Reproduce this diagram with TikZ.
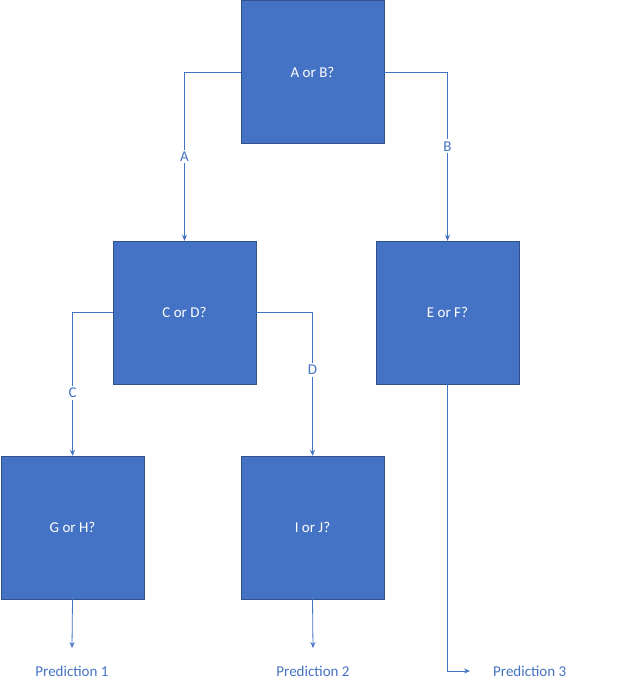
\documentclass[tikz,border=0pt]{standalone}
\usepackage{fontspec}
\setmainfont{Carlito}
\usetikzlibrary{arrows.meta}
\definecolor{boxblue}{HTML}{4472C4}
\definecolor{boxedge}{HTML}{2F528F}
\tikzset{
  qbox/.style={draw=boxedge, fill=boxblue, minimum width=143pt, minimum height=143pt, inner sep=0pt, text=white, font=\fontsize{15}{18}\selectfont},
  conn/.style={draw=boxblue, line width=0.8pt, -{Stealth[length=6pt,width=5pt]}},
  lbl/.style={fill=white, text=boxblue, inner sep=2pt, font=\fontsize{15}{18}\selectfont},
  pred/.style={text=boxblue, inner sep=1pt, font=\fontsize{15}{18}\selectfont}
}
\begin{document}
\begin{tikzpicture}[x=1pt,y=-1pt]
\useasboundingbox (0,0) rectangle (623,698);
\node[qbox] (ab) at (312.5,72) {A or B?};
\node[qbox] (cd) at (184.5,312.5) {C or D?};
\node[qbox] (ef) at (447.5,312.5) {E or F?};
\node[qbox] (gh) at (72.5,527.5) {G or H?};
\node[qbox] (ij) at (312.5,527.5) {I or J?};
\node[pred] (p1) at (72,671) {Prediction 1};
\node[pred] (p2) at (313,671) {Prediction 2};
\node[pred, anchor=west] (p3) at (492,671) {Prediction 3};
\coordinate (p1t) at (72,648);
\coordinate (p2t) at (313,648);
\coordinate (p3l) at (470,671);
\draw[conn] (ab.west) -| (cd.north) node[lbl, pos=0.75] {A};
\draw[conn] (ab.east) -| (ef.north) node[lbl, pos=0.72] {B};
\draw[conn] (cd.west) -| (gh.north) node[lbl, pos=0.78] {C};
\draw[conn] (cd.east) -| (ij.north) node[lbl, pos=0.7] {D};
\draw[conn] (gh.south) -- (p1t);
\draw[conn] (ij.south) -- (p2t);
\draw[conn] (ef.south) |- (p3l);
\end{tikzpicture}
\end{document}
